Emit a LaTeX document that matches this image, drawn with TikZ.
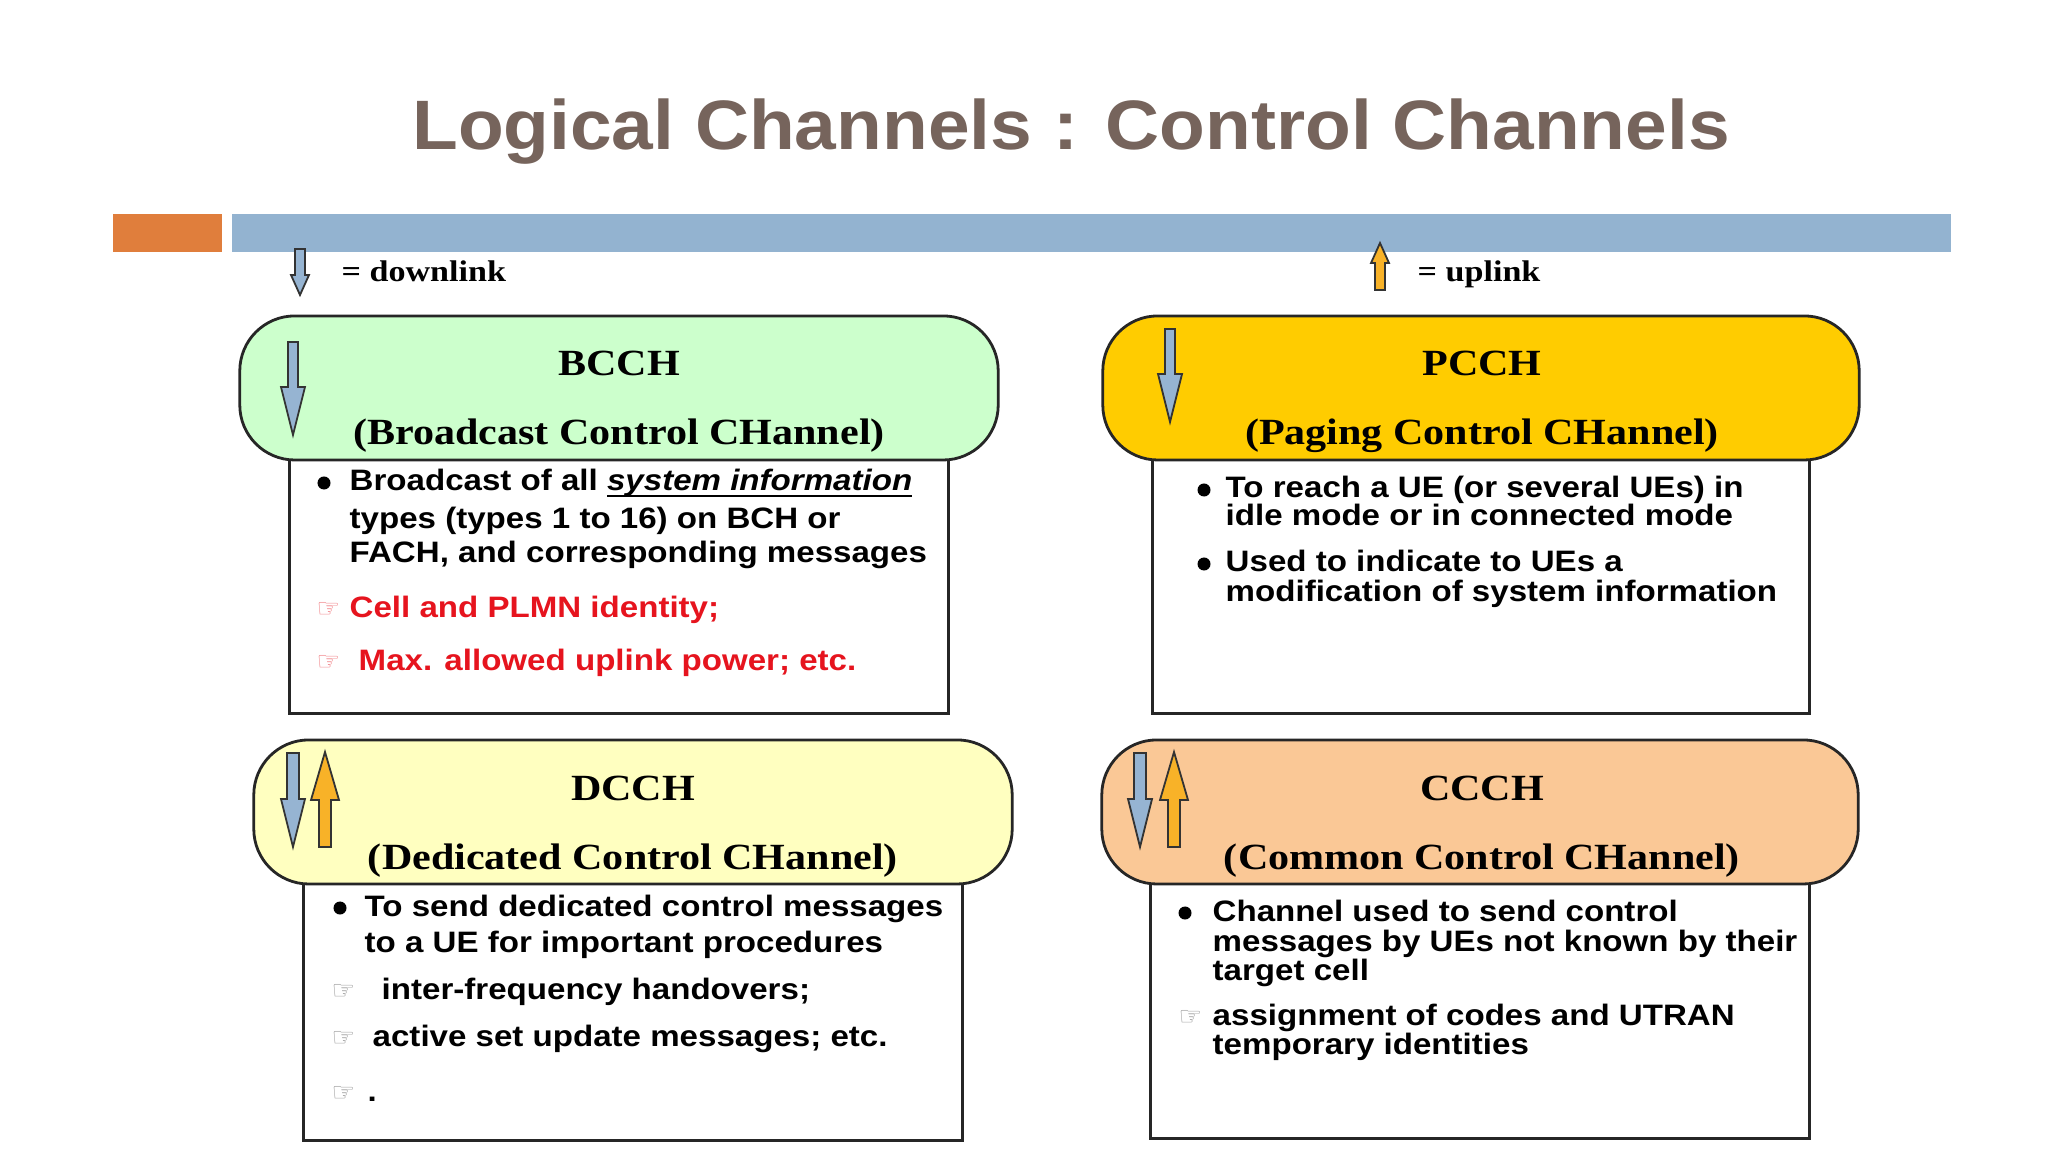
\documentclass[tikz,border=0pt]{standalone}
\usepackage{fontspec}
\setmainfont{Liberation Sans}[FakeStretch=1.12]
\newfontfamily\headfont{Liberation Serif}[FakeStretch=1.14]
\newfontfamily\titlefont{Liberation Sans}[FakeStretch=1.07]
\newfontfamily\handfont{DejaVu Sans}
\usepackage{tikz}
\usetikzlibrary{positioning}
\definecolor{titlebrown}{RGB}{118,100,92}
\definecolor{barorange}{RGB}{224,126,60}
\definecolor{barblue}{RGB}{147,179,208}
\definecolor{bcchgreen}{RGB}{204,255,204}
\definecolor{pcchgold}{RGB}{255,204,0}
\definecolor{dcchyellow}{RGB}{255,255,192}
\definecolor{ccchpeach}{RGB}{250,200,150}
\definecolor{dlblue}{RGB}{150,180,210}
\definecolor{ulorange}{RGB}{248,178,40}
\definecolor{infored}{RGB}{230,20,30}
\newcommand{\ulin}[1]{\underline{\smash{#1}}}

\begin{document}
\begin{tikzpicture}[x=0.01cm, y=-0.01cm,
    hdbox/.style={draw=black!85, line width=0.028cm, rounded corners=0.55cm,
                  outer sep=0pt, inner sep=0pt, minimum height=1.44cm},
    bodybox/.style={draw=black!85, fill=white, line width=0.028cm,
                    outer sep=0pt, inner sep=0pt, anchor=north},
    hdtext/.style={font=\headfont\bfseries\fontsize{10.5pt}{12pt}\selectfont,
                   anchor=base, inner sep=0pt},
    txt/.style={font=\bfseries\fontsize{8.4pt}{10pt}\selectfont,
                anchor=base west, inner sep=0pt},
    redtxt/.style={txt, text=infored},
    dot/.style={circle, fill=black, inner sep=0pt, minimum size=0.13cm},
    hnd/.style={font=\handfont\fontsize{7.5pt}{8pt}\selectfont, text=gray!80,
                anchor=base west, inner sep=0pt},
    legend/.style={font=\headfont\bfseries\fontsize{8.5pt}{10pt}\selectfont,
                   anchor=base west, inner sep=0pt},
    dnarr/.style={draw=black!80, line width=0.018cm, fill=dlblue},
    uparr/.style={draw=black!80, line width=0.018cm, fill=ulorange}
]
\useasboundingbox (0,0) rectangle (2048,1152);

% title and bars
\node[font=\titlefont\bfseries\fontsize{19.9pt}{24pt}\selectfont, text=titlebrown,
      anchor=base, inner sep=0pt] (title) at (1071,150) {Logical Channels : Control Channels};
\fill[barorange] (113,214) rectangle (222,252);
\fill[barblue] (232,214) rectangle (1951,252);

% legend
\draw[dnarr, shift={(300,249)}] (-5,0) -- (5,0) -- (5,26) -- (9,26) -- (0,46) -- (-9,26) -- (-5,26) -- cycle;
\node[legend] (dl) at (341,282) {= downlink};
\draw[uparr, shift={(1380,290)}] (-5,0) -- (5,0) -- (5,-27) -- (9,-27) -- (0,-47) -- (-9,-27) -- (-5,-27) -- cycle;
\node[legend] (ul) at (1417,282) {= uplink};

% BCCH
\node[bodybox, minimum width=6.58cm, minimum height=2.53cm] (bcchbody) at (619,460) {};
\node[hdbox, fill=bcchgreen, minimum width=7.58cm, above=0cm of bcchbody] (bcch) {};
\draw[dnarr, shift={(293,342)}] (-5,0) -- (5,0) -- (5,45) -- (12,45) -- (0,93) -- (-12,45) -- (-5,45) -- cycle;
\node[hdtext] (bcchname) at (619,376) {BCCH};
\node[hdtext] (bcchlong) at (619,445) {(Broadcast Control CHannel)};
\node[dot] (bcchdot) at (324,483) {};
\node[txt] (bcch1) at (349,491) {Broadcast of all \ulin{\textit{system information}}};
\node[txt] (bcch2) at (349,528) {types (types 1 to 16) on BCH or};
\node[txt] (bcch3) at (349,563) {FACH, and corresponding messages};
\node[hnd, text=infored!55] (bcchh1) at (316,617) {☞};
\node[redtxt] (bcch4) at (349,617) {Cell and PLMN identity;};
\node[hnd, text=infored!55] (bcchh2) at (316,670) {☞};
\node[redtxt] (bcch5) at (358,670) {Max. allowed uplink power; etc.};

% PCCH
\node[bodybox, minimum width=6.57cm, minimum height=2.53cm] (pcchbody) at (1481,460) {};
\node[hdbox, fill=pcchgold, minimum width=7.56cm, above=0cm of pcchbody] (pcch) {};
\draw[dnarr, shift={(1170,329)}] (-5,0) -- (5,0) -- (5,45) -- (12,45) -- (0,93) -- (-12,45) -- (-5,45) -- cycle;
\node[hdtext] (pcchname) at (1482,376) {PCCH};
\node[hdtext] (pcchlong) at (1482,445) {(Paging Control CHannel)};
\node[dot] (pcchdot1) at (1204,490) {};
\node[txt] (pcch1) at (1225,498) {To reach a UE (or several UEs) in};
\node[txt] (pcch2) at (1225,526) {idle mode or in connected mode};
\node[dot] (pcchdot2) at (1204,564) {};
\node[txt] (pcch3) at (1225,572) {Used to indicate to UEs a};
\node[txt] (pcch4) at (1225,601) {modification of system information};

% DCCH
\node[bodybox, minimum width=6.59cm, minimum height=2.56cm] (dcchbody) at (633,884) {};
\node[hdbox, fill=dcchyellow, minimum width=7.58cm, above=0cm of dcchbody] (dcch) {};
\draw[dnarr, shift={(293,753)}] (-6,0) -- (6,0) -- (6,46) -- (12,46) -- (0,94) -- (-12,46) -- (-6,46) -- cycle;
\draw[uparr, shift={(325,847)}] (-6,0) -- (6,0) -- (6,-47) -- (14,-47) -- (0,-95) -- (-14,-47) -- (-6,-47) -- cycle;
\node[hdtext] (dcchname) at (633,800) {DCCH};
\node[hdtext] (dcchlong) at (633,869) {(Dedicated Control CHannel)};
\node[dot] (dcchdot) at (340,908) {};
\node[txt] (dcch1) at (364,916) {To send dedicated control messages};
\node[txt] (dcch2) at (364,952) {to a UE for important procedures};
\node[hnd] (dcchh1) at (331,999) {☞};
\node[txt] (dcch3) at (381,999) {inter-frequency handovers;};
\node[hnd] (dcchh2) at (331,1046) {☞};
\node[txt] (dcch4) at (372,1046) {active set update messages; etc.};
\node[hnd] (dcchh3) at (331,1101) {☞};
\node[txt] (dcch5) at (367,1101) {.};

% CCCH
\node[bodybox, minimum width=6.58cm, minimum height=2.54cm] (ccchbody) at (1480,884) {};
\node[hdbox, fill=ccchpeach, minimum width=7.56cm, above=0cm of ccchbody] (ccch) {};
\draw[dnarr, shift={(1140,753)}] (-6,0) -- (6,0) -- (6,46) -- (12,46) -- (0,94) -- (-12,46) -- (-6,46) -- cycle;
\draw[uparr, shift={(1174,847)}] (-6,0) -- (6,0) -- (6,-47) -- (14,-47) -- (0,-95) -- (-14,-47) -- (-6,-47) -- cycle;
\node[hdtext] (ccchname) at (1482,800) {CCCH};
\node[hdtext] (ccchlong) at (1482,869) {(Common Control CHannel)};
\node[dot] (ccchdot) at (1185,913) {};
\node[txt] (ccch1) at (1212,921) {Channel used to send control};
\node[txt] (ccch2) at (1212,951) {messages by UEs not known by their};
\node[txt] (ccch3) at (1212,980) {target cell};
\node[hnd] (ccchh1) at (1178,1025) {☞};
\node[txt] (ccch4) at (1212,1025) {assignment of codes and UTRAN};
\node[txt] (ccch5) at (1212,1054) {temporary identities};
\end{tikzpicture}
\end{document}
